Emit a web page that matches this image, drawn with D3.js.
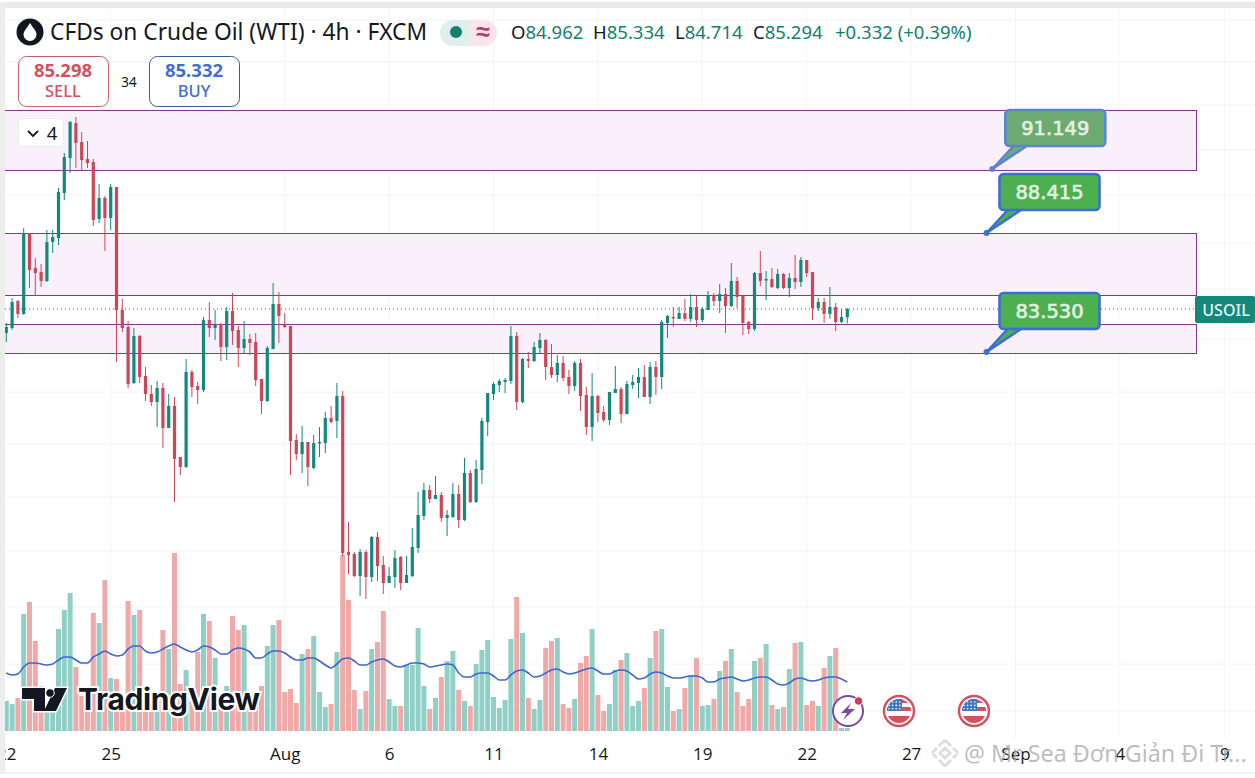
<!DOCTYPE html>
<html>
<head>
<meta charset="utf-8">
<script src="https://d3js.org/d3.v7.min.js"></script>
<style>
  html, body { margin: 0; padding: 0; background: #fff; overflow: hidden; }
  svg { display: block; }
  text { font-family: "Noto Sans", sans-serif; }
</style>
</head>
<body>
<div id="chart"></div>
<script>
// Bougies 4h
const opens = [84.33,84.53,85.61,85.09,88.33,86.93,86.77,86.41,87.97,88.13,89.93,91.33,92.73,91.97,91.29,91.17,88.89,89.73,88.93,90.17,
85.25,84.57,82.33,84.21,82.61,81.89,81.57,82.13,80.53,81.41,79.37,78.97,82.77,82.21,82.05,84.85,84.53,84.69,83.77,85.21,
84.45,83.73,84.09,83.97,82.49,81.61,83.69,85.49,84.65,84.61,80.05,79.49,79.97,78.93,79.93,79.93,80.93,80.81,81.81,75.57,
75.49,74.61,75.57,74.57,76.17,75.05,74.33,74.57,75.37,74.33,74.61,75.73,77.01,78.05,77.69,77.85,76.93,76.97,77.89,76.85,
78.73,77.57,78.85,80.77,81.89,82.25,82.37,82.41,84.21,81.57,83.29,83.21,83.73,84.05,82.97,82.65,83.13,82.57,82.21,83.13,
81.85,80.57,81.81,81.17,80.85,81.93,82.09,81.09,82.25,82.33,82.57,81.77,82.97,82.57,84.73,84.97,84.89,85.13,84.89,85.37,
84.85,85.25,85.85,85.61,85.89,85.41,86.41,85.81,84.77,84.49,86.73,86.45,86.49,86.13,86.69,86.13,86.53,86.37,87.25,86.77,
85.33,85.57,85.09,85.37,84.77,84.962];
const highs = [84.73,85.73,85.65,88.53,88.33,87.33,87.09,88.45,88.45,90.13,91.53,92.81,92.97,92.37,92.01,91.29,90.29,89.81,90.29,90.17,
85.69,84.81,84.53,84.25,82.97,82.25,82.41,82.33,81.89,81.77,79.37,83.29,82.85,82.37,84.97,85.57,85.25,84.73,85.37,85.93,
84.61,84.81,84.29,84.33,82.49,83.81,86.33,85.97,85.13,84.61,80.29,80.61,79.97,80.25,80.57,81.17,81.41,82.33,82.01,76.77,
75.57,75.69,75.65,76.21,76.37,75.41,74.97,75.65,75.41,75.41,76.53,77.97,78.33,78.25,78.61,77.97,77.25,78.33,78.25,79.33,
78.85,79.25,80.93,81.93,82.37,82.49,82.53,84.61,84.37,83.33,83.57,83.97,84.33,84.09,83.89,83.45,83.41,82.85,83.21,83.29,
82.17,82.73,81.85,81.41,81.97,83.01,82.17,82.41,82.65,82.93,83.05,83.17,83.21,84.85,85.05,85.37,85.37,85.69,85.89,85.81,
85.37,86.01,85.93,86.29,86.13,87.13,86.57,85.85,84.81,86.77,87.61,86.81,86.93,86.89,86.73,86.73,87.45,87.37,87.25,86.77,
85.73,85.73,86.17,85.53,85.29,85.334];
const lows = [83.97,84.45,84.93,85.05,86.13,85.81,86.17,86.37,87.53,87.85,89.65,90.73,90.93,90.85,90.93,88.61,88.73,87.61,88.45,83.17,
84.37,82.13,82.29,82.33,81.61,81.41,80.57,79.73,80.53,77.57,78.65,78.93,81.77,81.49,81.97,84.17,84.05,83.21,83.25,83.85,
82.97,83.49,83.45,82.21,81.09,81.57,83.69,83.93,84.53,78.65,79.25,78.73,78.21,78.89,79.37,79.53,80.73,80.13,75.41,74.69,
74.57,73.81,73.69,74.37,74.41,73.89,74.33,74.13,74.05,74.33,74.57,75.53,76.85,77.53,77.69,76.77,76.21,76.93,76.53,76.81,
77.53,77.53,78.29,80.21,81.65,81.97,81.93,82.29,81.25,81.53,82.93,83.17,83.53,82.45,82.53,82.37,82.41,81.89,82.01,81.21,
80.25,80.01,80.77,80.77,80.65,81.93,80.73,81.09,82.09,81.73,81.77,81.49,81.85,82.09,84.13,84.57,84.89,84.81,84.77,84.57,
84.77,85.25,85.41,85.13,84.33,85.37,85.33,84.25,84.29,84.41,86.21,85.65,86.13,86.09,86.09,85.77,86.09,86.17,86.57,84.85,
85.21,84.73,84.89,84.41,84.73,84.714];
const closes = [84.57,85.57,85.09,88.33,86.85,86.73,86.41,87.97,88.17,89.97,91.37,92.77,91.93,91.25,91.13,88.85,89.73,88.93,90.17,85.25,
84.53,82.29,84.21,82.57,81.89,81.57,82.13,80.53,81.41,79.29,78.97,82.77,82.17,82.05,84.85,84.53,84.65,83.77,85.21,84.41,
83.73,84.09,83.93,82.45,81.61,83.73,85.49,85.01,84.57,80.01,79.49,79.97,78.97,79.93,79.97,80.93,80.77,81.81,75.53,75.45,
74.61,75.57,74.57,76.17,75.01,74.33,74.61,75.33,74.33,74.65,75.77,77.05,78.05,77.69,77.85,76.93,77.05,77.89,76.85,78.73,
77.57,78.89,80.81,81.93,82.29,82.41,82.45,84.21,81.57,83.29,83.21,83.77,84.05,82.97,82.65,83.13,82.53,82.21,83.13,81.81,
80.57,81.81,81.13,80.85,81.97,82.09,81.09,82.29,82.37,82.57,81.77,82.97,82.57,84.77,85.01,84.93,85.13,84.89,85.37,84.85,
85.29,85.85,85.61,85.89,85.41,86.41,85.77,84.73,84.49,86.73,86.41,86.49,86.17,86.69,86.13,86.53,86.37,87.25,86.73,85.33,
85.57,85.09,85.37,84.77,84.97,85.294];

// Volume et sa moyenne mobile
const volumes = [30,27,33,117,129,90,45,30,30,102,121,138,64,35,32,118,108,151,53,52,
30,130,116,121,30,30,30,101,82,178,47,61,30,79,117,110,73,35,45,115,
101,106,35,35,45,85,106,111,39,42,28,77,82,95,39,24,27,79,176,131,
41,22,40,82,89,120,32,25,25,66,66,103,45,22,33,54,70,80,41,30,
25,67,81,91,34,23,31,92,134,98,33,22,31,83,90,93,27,23,32,68,
75,102,36,20,27,61,71,78,25,30,43,73,100,102,44,20,22,43,56,73,
25,26,32,60,70,82,39,25,32,70,73,87,26,22,24,62,88,89,26,30,
25,63,75,83,3,3];
const volumeMA = [58,56,57,64,68,68,67,66,67,71,74,74,71,68,68,74,77,80,77,75,
76,82,85,85,80,78,79,82,85,87,84,81,79,81,85,84,81,77,77,81,
83,82,79,73,73,77,80,80,78,74,71,71,73,73,70,66,63,67,72,73,
70,66,66,69,71,72,69,65,64,66,68,68,67,64,65,66,67,66,58,54,
54,57,58,58,55,51,51,56,60,61,58,54,55,58,61,62,59,57,58,60,
62,63,60,57,57,60,61,60,56,52,53,57,59,58,55,53,53,54,55,55,
53,49,49,52,53,54,52,50,51,53,54,54,51,47,46,48,52,53,51,50,
51,53,54,54,52,49];

// Axe du temps
const tickBars = [0,18,48,66,84,102,120,138,156,174,192,210];
const tickLabels = ["22","25","Aug","6","11","14","19","22","27","Sep","4","9"];

// Lignes de grille et zones dessinées
const gridPrices = [96.85,95.17,93.45,91.65,89.85,87.93,86.09,84.09,81.97,79.89,77.77,75.61,73.37,71.09,69.21];
const zoneTops = [93.25,88.33,84.69];
const zoneBottoms = [90.85,85.85,83.53];
const lastPrice = 85.29;

// Étiquettes à droite
const calloutTexts = ["91.149","88.415","83.530"];
const calloutPrices = [90.89,88.33,83.57];
const calloutBars = [170,169,169];
const calloutFills = ["#6dab72","#4caf50","#4caf50"];
const calloutStrokes = ["#5b83d6","#3b6fd1","#3b6fd1"];

// Légende du haut
const ohlcLetters = ["O","H","L","C"];
const ohlcValues = ["84.962","85.334","84.714","85.294"];

const upColor = "#12897a", downColor = "#cd4658";
const upVol = "#8fcfc6", downVol = "#f0a9a9";

const width = 1255, height = 778;
const svg = d3.select("#chart").append("svg").attr("width", width).attr("height", height);

const x = d3.scaleLinear().domain([0, 210]).range([6.3, 1224.3]);
const y = d3.scaleLinear().domain([97.65, 69.65]).range([0, 700]);
const yVol = d3.scaleLinear().domain([0, 200]).range([731, 531]);

svg.append("rect").attr("width", width).attr("height", height).attr("fill", "#fff");

// grille
svg.append("g").selectAll("line").data(gridPrices).join("line")
    .attr("x1", 5).attr("x2", width)
    .attr("y1", d => y(d)).attr("y2", d => y(d))
    .attr("stroke", "#f4f4f4");
svg.append("g").selectAll("line").data(tickBars.slice(1)).join("line")
    .attr("x1", d => x(d)).attr("x2", d => x(d))
    .attr("y1", 8).attr("y2", 738)
    .attr("stroke", "#f4f4f4");

// zones violettes
svg.append("g").selectAll("rect").data(zoneTops).join("rect")
    .attr("x", 4).attr("width", 1192)
    .attr("y", d => y(d))
    .attr("height", (d, i) => y(zoneBottoms[i]) - y(d))
    .attr("fill", "#f9f0fb").attr("stroke", "#85368f").attr("stroke-width", 1)
    .attr("shape-rendering", "crispEdges");

// volume
const bars = d3.range(opens.length);
svg.append("g").selectAll("rect").data(bars).join("rect")
    .attr("x", i => x(i) - 2.5).attr("width", 5)
    .attr("y", i => yVol(volumes[i]))
    .attr("height", i => yVol(0) - yVol(volumes[i]))
    .attr("fill", i => closes[i] >= opens[i] ? upVol : downVol);

const maLine = d3.line().x(i => x(i)).y(i => yVol(volumeMA[i])).curve(d3.curveMonotoneX);
svg.append("path").datum(bars).attr("d", maLine)
    .attr("fill", "none").attr("stroke", "#3f67c9").attr("stroke-width", 1.6);

// ligne du dernier prix
svg.append("line").attr("x1", 5).attr("x2", 1196)
    .attr("y1", y(lastPrice)).attr("y2", y(lastPrice))
    .attr("stroke", "#3a5f58").attr("stroke-width", 1).attr("stroke-dasharray", "1 3");

// bougies
const candles = svg.append("g");
candles.selectAll("line").data(bars).join("line")
    .attr("x1", i => x(i)).attr("x2", i => x(i))
    .attr("y1", i => y(highs[i])).attr("y2", i => y(lows[i]))
    .attr("stroke", i => closes[i] >= opens[i] ? upColor : downColor);
candles.selectAll("rect").data(bars).join("rect")
    .attr("x", i => x(i) - 1.6).attr("width", 3.2)
    .attr("y", i => y(Math.max(opens[i], closes[i])))
    .attr("height", i => Math.max(1.5, Math.abs(y(opens[i]) - y(closes[i]))))
    .attr("fill", i => closes[i] >= opens[i] ? upColor : downColor);

// étiquette USOIL
svg.append("rect").attr("x", 1195).attr("y", 296).attr("width", 60).attr("height", 27)
    .attr("rx", 2).attr("fill", "#12897a");
svg.append("text").attr("x", 1226).attr("y", 315.5).attr("text-anchor", "middle")
    .attr("font-size", 16).attr("font-weight", 500).attr("fill", "#e6f5f2").text("USOIL");

// étiquettes vertes
const callouts = svg.append("g").selectAll("g").data(calloutTexts).join("g")
    .attr("transform", (d, i) => `translate(${x(calloutBars[i])},${y(calloutPrices[i])})`);
callouts.append("path")
    .attr("d", "M0 0 L22 -24 L36 -24 Z")
    .attr("fill", (d, i) => calloutFills[i])
    .attr("stroke", (d, i) => calloutStrokes[i]).attr("stroke-width", 2.4).attr("stroke-linejoin", "round");
callouts.append("rect")
    .attr("x", 13).attr("y", -59).attr("width", 100).attr("height", 36).attr("rx", 4)
    .attr("fill", (d, i) => calloutFills[i])
    .attr("stroke", (d, i) => calloutStrokes[i]).attr("stroke-width", 2.6);
callouts.append("circle").attr("r", 3).attr("fill", (d, i) => calloutStrokes[i]);
callouts.append("text").attr("x", 63).attr("y", -34).attr("text-anchor", "middle")
    .style("font-family", "'DejaVu Sans'").attr("font-size", 19.5)
    .attr("stroke", "#e2f0e2").attr("stroke-width", 0.7)
    .attr("fill", "#e2f0e2").text(d => d);

// logo TradingView
const logo = svg.append("g").attr("fill", "#131722");
logo.append("path").attr("d", "M22 688 H45 V711 H34 V699 H22 Z M67 688 L56 711 H44 L55 688 Z")
    .attr("stroke", "#fff").attr("stroke-width", 3).attr("paint-order", "stroke");
logo.append("circle").attr("cx", 50).attr("cy", 693).attr("r", 4.3).attr("stroke", "#fff").attr("stroke-width", 1);
logo.append("text").attr("x", 78).attr("y", 710).attr("textLength", 182)
    .style("font-family", "Inter").attr("font-size", 30).attr("font-weight", 700)
    .attr("stroke", "#fff").attr("stroke-width", 4).attr("paint-order", "stroke")
    .text("TradingView");

// icône éclair
const flash = svg.append("g").attr("transform", "translate(848,711)");
flash.append("circle").attr("r", 15).attr("fill", "#fff").attr("stroke", "#7b4a9f").attr("stroke-width", 2);
flash.append("path").attr("d", "M3 -8 L-7 2 L-1 2 L-5 9 L7 -2 L0 -2 Z").attr("fill", "#7b4a9f");
flash.append("circle").attr("cx", 10.5).attr("cy", -10).attr("r", 4.2).attr("fill", "#d8394e").attr("stroke", "#fff");

// drapeaux américains
const defs = svg.append("defs");
defs.append("clipPath").attr("id", "flagClip").append("circle").attr("r", 12);
defs.append("clipPath").attr("id", "axisClip").append("rect").attr("x", 5).attr("y", 735).attr("width", 1250).attr("height", 38);
[899, 974].forEach(function (cx) {
    const f = svg.append("g").attr("transform", `translate(${cx},711)`);
    f.append("circle").attr("r", 15).attr("fill", "#fff").attr("stroke", "#d5505f").attr("stroke-width", 2.4);
    const c = f.append("g").attr("clip-path", "url(#flagClip)");
    c.append("rect").attr("x", -12).attr("y", -12).attr("width", 24).attr("height", 24).attr("fill", "#fff");
    c.append("rect").attr("x", -12).attr("y", -12).attr("width", 24).attr("height", 4).attr("fill", "#d5505f");
    c.append("rect").attr("x", -12).attr("y", -4).attr("width", 24).attr("height", 4).attr("fill", "#d5505f");
    c.append("rect").attr("x", -12).attr("y", 5).attr("width", 24).attr("height", 8).attr("fill", "#d5505f");
    c.append("rect").attr("x", -12).attr("y", -12).attr("width", 15).attr("height", 12).attr("fill", "#3d78c4");
    for (let a = 0; a < 3; a++) for (let b = 0; b < 4; b++) {
        c.append("circle").attr("cx", -10 + b * 3.6).attr("cy", -9 + a * 3.4).attr("r", 0.8).attr("fill", "#fff");
    }
});

// bandes grises de la capture
svg.append("rect").attr("y", 2).attr("width", width).attr("height", 6).attr("fill", "#e9e9e9");
svg.append("rect").attr("y", 2).attr("width", 5).attr("height", 771).attr("fill", "#eeeeee");
svg.append("line").attr("x1", 0).attr("x2", width).attr("y1", 773).attr("y2", 773).attr("stroke", "#e6e6e6");

// axe du temps
const xAxis = d3.axisBottom(x).tickValues(tickBars).tickFormat((d, i) => tickLabels[i]).tickSize(0);
const axisG = svg.append("g").attr("clip-path", "url(#axisClip)").append("g").attr("transform", "translate(0,740.5)").call(xAxis);
axisG.select(".domain").remove();
axisG.selectAll("text").attr("font-size", 17).attr("fill", "#131722")
    .style("font-family", "'Open Sans'").attr("dy", "0.95em");
axisG.attr("font-family", null);

// filigrane
const mark = svg.append("g").attr("transform", "translate(945,753)").attr("fill", "none").attr("stroke", "#dedede").attr("stroke-width", 3);
mark.append("path").attr("d", "M0 -13 L6 -7 M-6 -7 L0 -13 M-13 0 L-8 -5 M-13 0 L-8 5 M13 0 L8 -5 M13 0 L8 5 M0 13 L6 7 M0 13 L-6 7 M-5 0 L0 -5 L5 0 L0 5 Z");
svg.append("text").attr("x", 964).attr("y", 762).attr("font-size", 23.3).attr("fill", "#a8a8a8").attr("fill-opacity", 0.75)
    .text("@ Mr Sea Đơn Giản Đi Tr...");

// titre
const icon = svg.append("g").attr("transform", "translate(30,32)");
icon.append("circle").attr("r", 13.5).attr("fill", "#131722");
icon.append("path").attr("d", "M0 -9 C3 -4 6.5 -1 6.5 2.5 A6.5 6.5 0 0 1 -6.5 2.5 C-6.5 -1 -3 -4 0 -9 Z").attr("fill", "#fff");
svg.append("text").attr("x", 50).attr("y", 40).attr("font-size", 22.75).attr("fill", "#131722")
    .text("CFDs on Crude Oil (WTI) · 4h · FXCM");

// pastille d'état
svg.append("path").attr("d", "M453 20 H470 V46 H453 A13 13 0 0 1 453 20 Z").attr("fill", "#dff0ec");
svg.append("path").attr("d", "M470 20 H484 A13 13 0 0 1 484 46 H470 Z").attr("fill", "#fbe4ec");
svg.append("circle").attr("cx", 456).attr("cy", 32).attr("r", 6).attr("fill", "#12806f");
svg.append("text").attr("x", 483).attr("y", 40).attr("text-anchor", "middle").attr("font-size", 25)
    .attr("font-weight", 700).attr("fill", "#b0405f").text("≈");

// valeurs OHLC
const ohlcX = [511, 593, 675, 753];
const legend = svg.append("text").attr("y", 38.5).attr("font-size", 18.5);
ohlcLetters.forEach(function (l, i) {
    legend.append("tspan").attr("x", ohlcX[i]).attr("fill", "#131722").text(l);
    legend.append("tspan").attr("fill", "#12806f").text(ohlcValues[i]);
});
legend.append("tspan").attr("x", 835).attr("fill", "#12806f").text("+0.332 (+0.39%)");

// boutons vendre / acheter
const boxes = [
    { x: 18, price: "85.298", label: "SELL", color: "#d4505f", border: "#c9606c" },
    { x: 149, price: "85.332", label: "BUY", color: "#3f6fd0", border: "#33609a" }
];
boxes.forEach(function (b) {
    svg.append("rect").attr("x", b.x + 0.5).attr("y", 56.5).attr("width", 90).attr("height", 50).attr("rx", 8)
        .attr("fill", "#fff").attr("stroke", b.border);
    svg.append("text").attr("x", b.x + 45).attr("y", 77).attr("text-anchor", "middle")
        .attr("font-size", 18.5).attr("font-weight", 700).attr("fill", b.color).text(b.price);
    svg.append("text").attr("x", b.x + 45).attr("y", 97).attr("text-anchor", "middle")
        .attr("font-size", 16.5).attr("font-weight", 500).attr("fill", b.color).text(b.label);
});
svg.append("text").attr("x", 129).attr("y", 87).attr("text-anchor", "middle").attr("font-size", 13.5).attr("fill", "#131722").text("34");

// bouton replié
svg.append("rect").attr("x", 18.5).attr("y", 118.5).attr("width", 45).attr("height", 28).attr("rx", 4)
    .attr("fill", "#fff").attr("stroke", "#ececec");
svg.append("path").attr("d", "M28 131 L33 136 L38 131").attr("fill", "none").attr("stroke", "#131722").attr("stroke-width", 1.8);
svg.append("text").attr("x", 52).attr("y", 139.5).attr("text-anchor", "middle").attr("font-size", 18.5).attr("fill", "#131722").text("4");
</script>
</body>
</html>
